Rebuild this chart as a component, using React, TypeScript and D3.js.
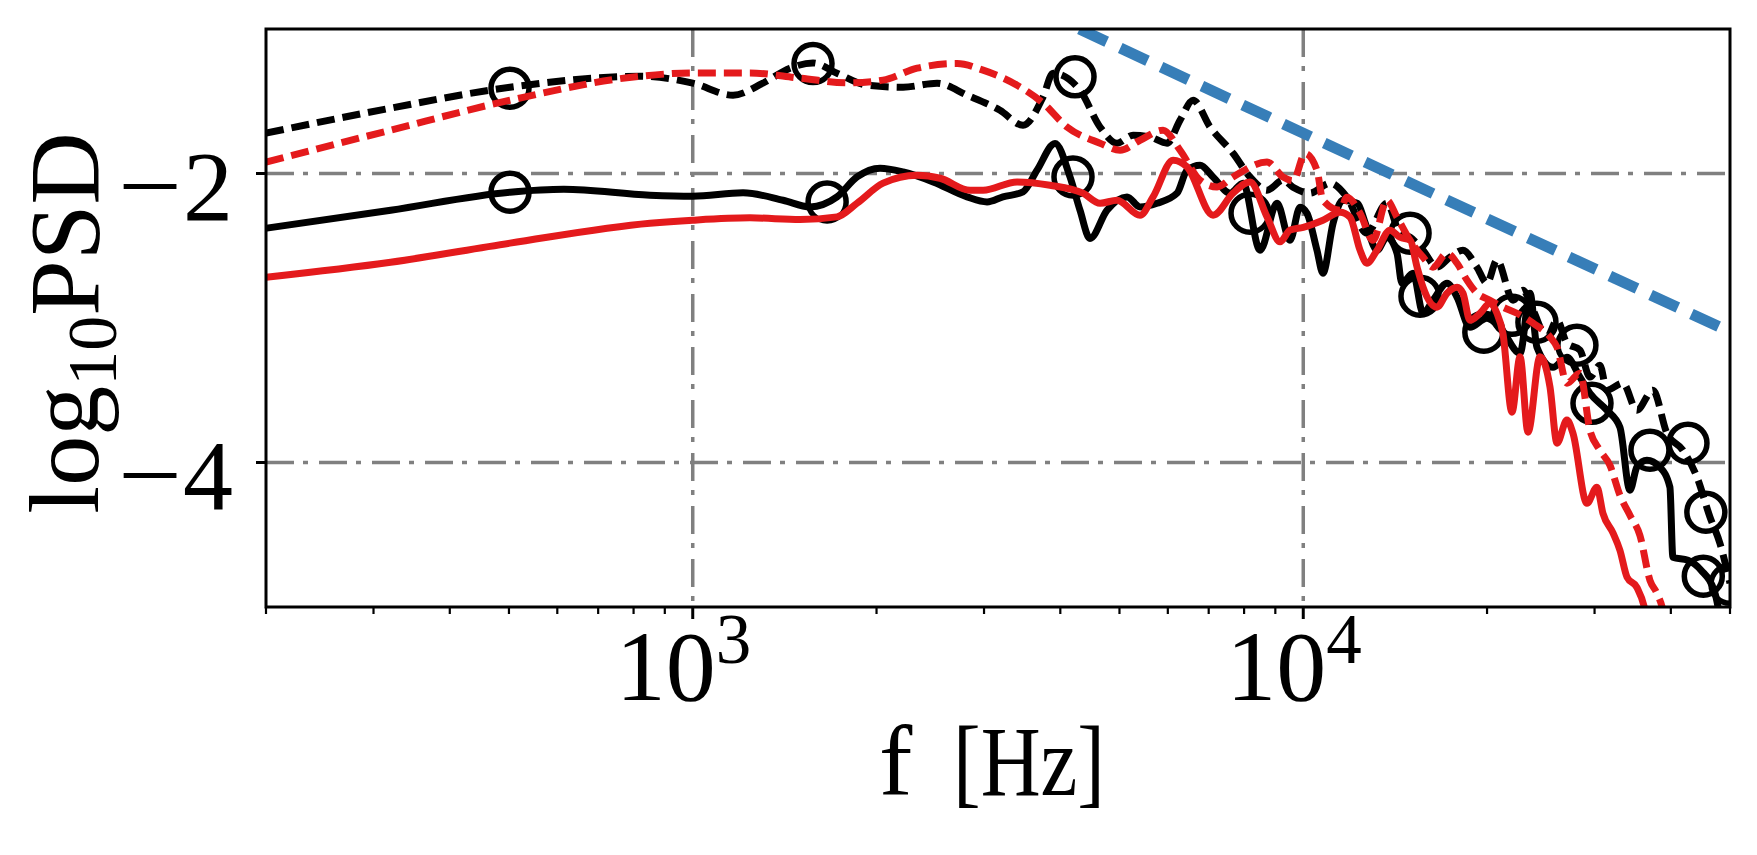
import React, { useEffect, useRef } from 'react'
import * as d3 from 'd3'

// frequency [Hz] and log10 PSD
const freqBlackSolid = [200, 320, 502, 615, 851, 1000, 1209, 1406, 1556, 1723, 1858, 2027, 2211, 2476, 2814, 3034, 3222, 3475, 3664, 3921, 4149, 4308, 4474, 4770, 5145, 5403, 5761, 6213, 6451, 6776, 7116, 7588, 7969, 8496, 9059, 9512, 9878, 10140, 10530, 10770, 11190, 11610, 12250, 12710, 13210, 13710, 14240, 14510, 15130, 15710, 16310, 17200, 17860, 18750, 19990, 21000, 22650, 23520, 24140, 25640, 27030, 28390, 29480, 31430, 33010, 34280, 35190, 36550, 38380, 39860, 40310, 42670, 44830, 47250, 48520]
const psdBlackSolid = [-2.379, -2.254, -2.129, -2.109, -2.15, -2.157, -2.134, -2.185, -2.231, -2.162, -2.024, -1.963, -1.989, -2.058, -2.162, -2.197, -2.162, -2.127, -1.977, -1.792, -2.024, -2.254, -2.45, -2.254, -2.162, -2.231, -2.206, -2.136, -1.977, -1.943, -2.024, -2.136, -2.067, -2.531, -2.206, -2.462, -2.233, -2.275, -2.531, -2.69, -2.344, -2.185, -2.206, -2.372, -2.531, -2.441, -2.552, -2.759, -2.69, -2.967, -2.877, -2.759, -2.856, -3.064, -3.001, -3.064, -3.244, -2.828, -3.202, -3.341, -3.272, -3.41, -3.521, -3.638, -3.756, -4.192, -4.032, -3.984, -4.032, -4.171, -4.655, -4.676, -4.745, -4.905, -5.161]

const freqBlackDashed = [200, 320, 502, 820, 1000, 1164, 1303, 1443, 1574, 1723, 1930, 2211, 2513, 2814, 3186, 3475, 3748, 3892, 4308, 4646, 4955, 5263, 5611, 5983, 6284, 6600, 7036, 7674, 8181, 8723, 9267, 9621, 10260, 11060, 11790, 12710, 13710, 14400, 14960, 15710, 16560, 17390, 18260, 19250, 19990, 20760, 22060, 22900, 23790, 25070, 26040, 27030, 28390, 29480, 30610, 31430, 33380, 35190, 37380, 39410, 41860, 44130, 46350, 48130, 50000]
const psdBlackDashed = [-1.721, -1.548, -1.403, -1.327, -1.375, -1.458, -1.375, -1.271, -1.235, -1.306, -1.389, -1.403, -1.375, -1.458, -1.562, -1.666, -1.47, -1.306, -1.424, -1.678, -1.79, -1.735, -1.747, -1.79, -1.631, -1.493, -1.678, -1.86, -2.024, -2.116, -2.046, -2.095, -2.136, -2.067, -2.164, -2.413, -2.206, -2.413, -2.441, -2.531, -2.648, -2.579, -2.531, -2.648, -2.759, -2.6, -2.877, -2.808, -2.946, -3.131, -3.015, -3.174, -3.223, -3.408, -3.327, -3.5, -3.451, -3.638, -3.5, -3.797, -3.915, -4.1, -4.376, -4.559, -4.836]

const freqRedSolid = [200, 320, 502, 851, 1000, 1241, 1499, 1723, 1858, 2050, 2331, 2542, 2846, 2989, 3398, 3848, 4357, 4646, 4955, 5403, 5675, 6120, 6451, 7116, 7674, 8181, 8723, 9162, 9512, 10000, 10770, 11490, 11930, 12390, 12710, 13210, 13870, 14400, 14960, 15360, 15710, 16560, 17200, 17860, 18260, 18750, 19480, 20220, 20760, 21230, 21970, 22650, 23340, 24420, 25360, 26040, 27030, 27650, 29150, 30270, 30960, 32170, 33010, 33910, 35190, 36290, 36970]
const psdRedSolid = [-2.718, -2.614, -2.482, -2.344, -2.323, -2.307, -2.318, -2.3, -2.206, -2.067, -2.012, -2.033, -2.116, -2.116, -2.058, -2.081, -2.136, -2.206, -2.185, -2.289, -2.162, -1.908, -1.954, -2.289, -2.136, -2.058, -2.3, -2.473, -2.392, -2.372, -2.323, -2.268, -2.302, -2.531, -2.621, -2.531, -2.392, -2.441, -2.462, -2.648, -2.787, -2.925, -2.828, -2.787, -2.828, -3.015, -2.967, -2.898, -2.967, -3.105, -3.652, -3.269, -3.79, -3.269, -3.478, -3.866, -3.706, -3.797, -4.282, -4.171, -4.351, -4.489, -4.607, -4.794, -4.864, -5.022, -5.23]

const freqRedDashed = [200, 320, 502, 820, 1000, 1241, 1499, 1810, 2050, 2331, 2710, 2989, 3398, 3748, 4102, 4646, 5011, 5403, 5893, 6284, 6776, 7225, 7674, 8723, 9267, 9621, 10070, 10530, 10770, 11490, 11790, 12390, 13010, 13710, 14240, 14960, 15710, 16310, 17200, 17860, 18540, 19250, 20220, 21230, 22390, 23790, 25360, 26040, 27030, 28390, 29480, 30610, 31790, 33010, 34280, 35590, 36970, 37950, 38820, 39560]
const psdRedDashed = [-1.922, -1.7, -1.493, -1.327, -1.304, -1.304, -1.34, -1.373, -1.354, -1.271, -1.239, -1.285, -1.389, -1.513, -1.678, -1.79, -1.839, -1.77, -1.7, -1.839, -2.046, -2.093, -2.024, -1.92, -2.024, -2.05, -1.862, -1.977, -2.185, -2.254, -2.164, -2.275, -2.462, -2.185, -2.302, -2.462, -2.579, -2.648, -2.552, -2.621, -2.738, -2.828, -2.877, -2.925, -2.967, -3.036, -3.131, -3.202, -3.451, -3.382, -3.776, -3.915, -4.019, -4.226, -4.365, -4.503, -4.815, -4.905, -5.022, -5.23]

// circle markers on the black curves
const markFreqBlackSolid = [502, 1660, 4196, 8181, 15530, 19760, 29710, 36970, 45210]
const markPsdBlackSolid = [-2.129, -2.197, -2.024, -2.275, -2.849, -3.098, -3.59, -3.915, -4.787]
const markFreqBlackDashed = [502, 1574, 4228, 14960, 21970, 24140, 28070, 42670, 45650, 50000]
const markPsdBlackDashed = [-1.41, -1.239, -1.331, -2.413, -2.981, -3.029, -3.188, -3.866, -4.344, -4.843]

// reference slope (blue dashed)
const refFreq = [4300, 50000]
const refPsd = [-1.0, -3.096]

const xTickValues = [1000, 10000]
const yTickValues = [-4, -2]

const RED = '#e41a1c'
const BLUE = '#377eb8'
const FONT = '"Liberation Serif", "Times New Roman", serif'

const App: React.FC = () => {
  const ref = useRef<SVGSVGElement>(null)

  useEffect(() => {
    document.body.style.margin = '0'
    const svg = d3.select(ref.current)
    svg.selectAll('*').remove()

    const left = 266
    const right = 1730
    const top = 29
    const bottom = 607

    const x = d3.scaleLog().domain([200, 50000]).range([left, right])
    const y = d3.scaleLinear().domain([-5, -1]).range([bottom, top])

    svg
      .append('defs')
      .append('clipPath')
      .attr('id', 'plot-clip')
      .append('rect')
      .attr('x', left)
      .attr('y', top)
      .attr('width', right - left)
      .attr('height', bottom - top)

    // grid
    const grid = svg.append('g').attr('stroke', '#808080').attr('stroke-width', 3.5).attr('stroke-dasharray', '28,9,5,11')
    xTickValues.forEach((t) => {
      grid.append('line').attr('x1', x(t)).attr('x2', x(t)).attr('y1', top).attr('y2', bottom)
    })
    yTickValues.forEach((t) => {
      grid.append('line').attr('x1', left).attr('x2', right).attr('y1', y(t)).attr('y2', y(t))
    })

    const plot = svg.append('g').attr('clip-path', 'url(#plot-clip)')

    const line = d3
      .line<[number, number]>()
      .x((d) => x(d[0]))
      .y((d) => y(d[1]))
      .curve(d3.curveMonotoneX)

    const zip = (f: number[], v: number[]) => f.map((fi, i) => [fi, v[i]] as [number, number])

    const series = [
      { f: freqBlackSolid, v: psdBlackSolid, color: '#000', dash: null, mf: markFreqBlackSolid, mv: markPsdBlackSolid },
      { f: freqBlackDashed, v: psdBlackDashed, color: '#000', dash: '18,8', mf: markFreqBlackDashed, mv: markPsdBlackDashed },
      { f: freqRedSolid, v: psdRedSolid, color: RED, dash: null, mf: [], mv: [] },
      { f: freqRedDashed, v: psdRedDashed, color: RED, dash: '18,8', mf: [], mv: [] },
    ]

    series.forEach((s) => {
      plot
        .append('path')
        .attr('d', line(zip(s.f, s.v)))
        .attr('fill', 'none')
        .attr('stroke', s.color)
        .attr('stroke-width', 7)
        .attr('stroke-linejoin', 'round')
        .attr('stroke-dasharray', s.dash)
      plot
        .selectAll(null)
        .data(zip(s.mf, s.mv))
        .enter()
        .append('circle')
        .attr('cx', (d) => x(d[0]))
        .attr('cy', (d) => y(d[1]))
        .attr('r', 19)
        .attr('fill', 'none')
        .attr('stroke', s.color)
        .attr('stroke-width', 5.5)
    })

    plot
      .append('path')
      .attr('d', d3.line<[number, number]>().x((d) => x(d[0])).y((d) => y(d[1]))(zip(refFreq, refPsd)))
      .attr('fill', 'none')
      .attr('stroke', BLUE)
      .attr('stroke-width', 11)
      .attr('stroke-dasharray', '30,15')

    // frame
    svg
      .append('rect')
      .attr('x', left)
      .attr('y', top)
      .attr('width', right - left)
      .attr('height', bottom - top)
      .attr('fill', 'none')
      .attr('stroke', '#000')
      .attr('stroke-width', 3)

    // x ticks
    const minor = x.ticks().filter((t) => !xTickValues.includes(t))
    svg
      .selectAll(null)
      .data(minor)
      .enter()
      .append('line')
      .attr('x1', (d) => x(d))
      .attr('x2', (d) => x(d))
      .attr('y1', bottom)
      .attr('y2', bottom + 7)
      .attr('stroke', '#000')
      .attr('stroke-width', 2.2)
    xTickValues.forEach((t) => {
      svg.append('line').attr('x1', x(t)).attr('x2', x(t)).attr('y1', bottom).attr('y2', bottom + 12).attr('stroke', '#000').attr('stroke-width', 3)
      const lbl = svg
        .append('text')
        .attr('x', x(t) - 77)
        .attr('y', 700)
        .attr('font-family', FONT)
        .attr('font-size', 100)
        .attr('fill', '#000')
        .text('10')
      lbl.append('tspan').attr('dy', -37).attr('font-size', 71).text(String(Math.round(Math.log10(t))))
    })

    // y ticks
    yTickValues.forEach((t) => {
      svg.append('line').attr('x1', left - 10).attr('x2', left).attr('y1', y(t)).attr('y2', y(t)).attr('stroke', '#000').attr('stroke-width', 3)
      svg
        .append('text')
        .attr('x', 118)
        .attr('y', y(t) + 46)
        .attr('font-family', FONT)
        .attr('font-size', 100)
        .attr('textLength', 64)
        .attr('lengthAdjust', 'spacingAndGlyphs')
        .text('\u2212')
      svg
        .append('text')
        .attr('x', 233)
        .attr('y', y(t) + 46)
        .attr('text-anchor', 'end')
        .attr('font-family', FONT)
        .attr('font-size', 100)
        .text(String(Math.abs(t)))
    })

    // axis labels
    svg
      .append('text')
      .attr('x', 879)
      .attr('y', 795)
      .attr('font-family', FONT)
      .attr('font-size', 100)
      .text('f')
    svg
      .append('text')
      .attr('x', 953)
      .attr('y', 795)
      .attr('font-family', FONT)
      .attr('font-size', 100)
      .attr('textLength', 152)
      .attr('lengthAdjust', 'spacingAndGlyphs')
      .text('[Hz]')

    const yl = svg
      .append('text')
      .attr('transform', 'translate(98,323) rotate(-90)')
      .attr('text-anchor', 'middle')
      .attr('font-family', FONT)
      .attr('font-size', 100)
      .text('log')
    yl.append('tspan').attr('dy', 18).attr('font-size', 70).text('10')
    yl.append('tspan').attr('dy', -18).text('PSD')
  }, [])

  return <svg ref={ref} width={1757} height={855} style={{ display: 'block', background: '#fff' }} />
}

export default App
